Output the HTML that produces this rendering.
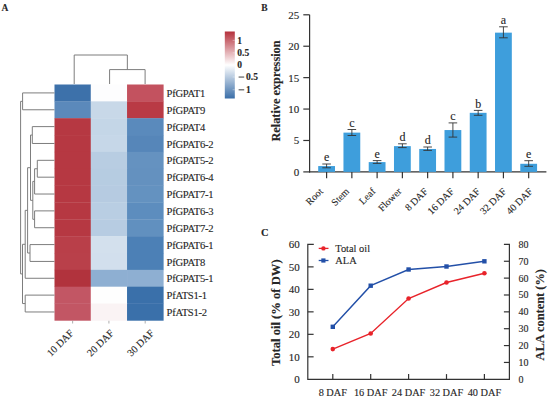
<!DOCTYPE html>
<html><head><meta charset="utf-8"><style>
html,body{margin:0;padding:0;background:#fff;}
svg{display:block;}
.s{font-family:"Liberation Serif", serif;fill:#262626;stroke:#262626;stroke-width:0.12px;}
</style></head><body>
<svg width="550" height="399" viewBox="0 0 550 399">
<rect width="550" height="399" fill="#fff"/>
<rect x="54.50" y="84.50" width="36.57" height="17.15" fill="#3d71aa"/>
<rect x="90.77" y="84.50" width="36.57" height="17.15" fill="#fdfdfe"/>
<rect x="127.04" y="84.50" width="36.57" height="17.15" fill="#c3525f"/>
<rect x="54.50" y="101.35" width="36.57" height="17.15" fill="#5b89bb"/>
<rect x="90.77" y="101.35" width="36.57" height="17.15" fill="#c8d8e8"/>
<rect x="127.04" y="101.35" width="36.57" height="17.15" fill="#b93a45"/>
<rect x="54.50" y="118.20" width="36.57" height="17.15" fill="#b63842"/>
<rect x="90.77" y="118.20" width="36.57" height="17.15" fill="#c4d6e7"/>
<rect x="127.04" y="118.20" width="36.57" height="17.15" fill="#5a8abc"/>
<rect x="54.50" y="135.05" width="36.57" height="17.15" fill="#b63842"/>
<rect x="90.77" y="135.05" width="36.57" height="17.15" fill="#c6d7e8"/>
<rect x="127.04" y="135.05" width="36.57" height="17.15" fill="#5686b9"/>
<rect x="54.50" y="151.90" width="36.57" height="17.15" fill="#b63842"/>
<rect x="90.77" y="151.90" width="36.57" height="17.15" fill="#b8cde2"/>
<rect x="127.04" y="151.90" width="36.57" height="17.15" fill="#6592c0"/>
<rect x="54.50" y="168.75" width="36.57" height="17.15" fill="#b63842"/>
<rect x="90.77" y="168.75" width="36.57" height="17.15" fill="#b6cce1"/>
<rect x="127.04" y="168.75" width="36.57" height="17.15" fill="#6491bf"/>
<rect x="54.50" y="185.60" width="36.57" height="17.15" fill="#b63842"/>
<rect x="90.77" y="185.60" width="36.57" height="17.15" fill="#b6cbe1"/>
<rect x="127.04" y="185.60" width="36.57" height="17.15" fill="#6492c0"/>
<rect x="54.50" y="202.45" width="36.57" height="17.15" fill="#b63842"/>
<rect x="90.77" y="202.45" width="36.57" height="17.15" fill="#b9cee3"/>
<rect x="127.04" y="202.45" width="36.57" height="17.15" fill="#5d8dbe"/>
<rect x="54.50" y="219.30" width="36.57" height="17.15" fill="#b63842"/>
<rect x="90.77" y="219.30" width="36.57" height="17.15" fill="#b7cce2"/>
<rect x="127.04" y="219.30" width="36.57" height="17.15" fill="#6190bf"/>
<rect x="54.50" y="236.15" width="36.57" height="17.15" fill="#b93f49"/>
<rect x="90.77" y="236.15" width="36.57" height="17.15" fill="#d3e0ed"/>
<rect x="127.04" y="236.15" width="36.57" height="17.15" fill="#4c80b6"/>
<rect x="54.50" y="253.00" width="36.57" height="17.15" fill="#b9404a"/>
<rect x="90.77" y="253.00" width="36.57" height="17.15" fill="#d2dfed"/>
<rect x="127.04" y="253.00" width="36.57" height="17.15" fill="#4c80b6"/>
<rect x="54.50" y="269.85" width="36.57" height="17.15" fill="#b1333d"/>
<rect x="90.77" y="269.85" width="36.57" height="17.15" fill="#8eafd2"/>
<rect x="127.04" y="269.85" width="36.57" height="17.15" fill="#8eafd2"/>
<rect x="54.50" y="286.70" width="36.57" height="17.15" fill="#c25664"/>
<rect x="90.77" y="286.70" width="36.57" height="17.15" fill="#fefefe"/>
<rect x="127.04" y="286.70" width="36.57" height="17.15" fill="#3a70aa"/>
<rect x="54.50" y="303.55" width="36.57" height="17.15" fill="#c25664"/>
<rect x="90.77" y="303.55" width="36.57" height="17.15" fill="#faf3f4"/>
<rect x="127.04" y="303.55" width="36.57" height="17.15" fill="#3a70aa"/>
<text x="166.5" y="97.02" font-size="10.6" letter-spacing="-0.25" class="s">PfGPAT1</text>
<text x="166.5" y="113.88" font-size="10.6" letter-spacing="-0.25" class="s">PfGPAT9</text>
<text x="166.5" y="130.72" font-size="10.6" letter-spacing="-0.25" class="s">PfGPAT4</text>
<text x="166.5" y="147.58" font-size="10.6" letter-spacing="-0.25" class="s">PfGPAT6-2</text>
<text x="166.5" y="164.42" font-size="10.6" letter-spacing="-0.25" class="s">PfGPAT5-2</text>
<text x="166.5" y="181.28" font-size="10.6" letter-spacing="-0.25" class="s">PfGPAT6-4</text>
<text x="166.5" y="198.12" font-size="10.6" letter-spacing="-0.25" class="s">PfGPAT7-1</text>
<text x="166.5" y="214.97" font-size="10.6" letter-spacing="-0.25" class="s">PfGPAT6-3</text>
<text x="166.5" y="231.83" font-size="10.6" letter-spacing="-0.25" class="s">PfGPAT7-2</text>
<text x="166.5" y="248.68" font-size="10.6" letter-spacing="-0.25" class="s">PfGPAT6-1</text>
<text x="166.5" y="265.53" font-size="10.6" letter-spacing="-0.25" class="s">PfGPAT8</text>
<text x="166.5" y="282.38" font-size="10.6" letter-spacing="-0.25" class="s">PfGPAT5-1</text>
<text x="166.5" y="299.23" font-size="10.6" letter-spacing="-0.25" class="s">PfATS1-1</text>
<text x="166.5" y="316.08" font-size="10.6" letter-spacing="-0.25" class="s">PfATS1-2</text>
<polyline fill="none" stroke="#7d7d7d" stroke-width="1" points="109.60,84.00 109.60,69.60 145.10,69.60 145.10,84.00"/>
<polyline fill="none" stroke="#7d7d7d" stroke-width="1" points="74.20,84.00 74.20,55.00 127.35,55.00 127.35,69.60"/>
<polyline fill="none" stroke="#7d7d7d" stroke-width="1" points="54.50,92.92 22.60,92.92 22.60,109.78 54.50,109.78"/>
<polyline fill="none" stroke="#7d7d7d" stroke-width="1" points="54.50,126.62 32.30,126.62 32.30,143.48 54.50,143.48"/>
<polyline fill="none" stroke="#7d7d7d" stroke-width="1" points="54.50,160.32 37.30,160.32 37.30,177.18 54.50,177.18"/>
<polyline fill="none" stroke="#7d7d7d" stroke-width="1" points="37.30,168.75 34.60,168.75 34.60,194.03 54.50,194.03"/>
<polyline fill="none" stroke="#7d7d7d" stroke-width="1" points="54.50,210.88 34.60,210.88 34.60,227.73 54.50,227.73"/>
<polyline fill="none" stroke="#7d7d7d" stroke-width="1" points="34.60,181.39 32.80,181.39 32.80,219.30 34.60,219.30"/>
<polyline fill="none" stroke="#7d7d7d" stroke-width="1" points="32.30,135.05 30.50,135.05 30.50,200.34 32.80,200.34"/>
<polyline fill="none" stroke="#7d7d7d" stroke-width="1" points="54.50,244.58 30.00,244.58 30.00,261.43 54.50,261.43"/>
<polyline fill="none" stroke="#7d7d7d" stroke-width="1" points="30.50,167.70 27.60,167.70 27.60,253.00 30.00,253.00"/>
<polyline fill="none" stroke="#7d7d7d" stroke-width="1" points="27.60,210.35 25.20,210.35 25.20,278.27 54.50,278.27"/>
<polyline fill="none" stroke="#7d7d7d" stroke-width="1" points="54.50,295.12 25.20,295.12 25.20,311.98 54.50,311.98"/>
<polyline fill="none" stroke="#7d7d7d" stroke-width="1" points="25.20,244.31 22.50,244.31 22.50,303.55 25.20,303.55"/>
<polyline fill="none" stroke="#7d7d7d" stroke-width="1" points="22.60,101.35 20.60,101.35 20.60,273.93 22.50,273.93"/>
<line x1="72.64" y1="320.80" x2="72.64" y2="323.50" stroke="#999" stroke-width="0.8"/>
<text transform="translate(74.30,333.7) rotate(-45)" text-anchor="end" font-size="10.2" class="s">10 DAF</text>
<line x1="108.91" y1="320.80" x2="108.91" y2="323.50" stroke="#999" stroke-width="0.8"/>
<text transform="translate(114.50,333.7) rotate(-45)" text-anchor="end" font-size="10.2" class="s">20 DAF</text>
<line x1="145.18" y1="320.80" x2="145.18" y2="323.50" stroke="#999" stroke-width="0.8"/>
<text transform="translate(154.70,333.7) rotate(-45)" text-anchor="end" font-size="10.2" class="s">30 DAF</text>
<defs><linearGradient id="lg" x1="0" y1="0" x2="0" y2="1"><stop offset="0" stop-color="#b5313c"/><stop offset="0.5" stop-color="#ffffff"/><stop offset="1" stop-color="#3a6ea8"/></linearGradient></defs>
<rect x="224.8" y="31.5" width="10" height="67" fill="url(#lg)"/>
<rect x="232.6" y="39.90" width="2.2" height="0.8" fill="#fff" fill-opacity="0.45"/>
<rect x="232.6" y="52.50" width="2.2" height="0.8" fill="#fff" fill-opacity="0.45"/>
<rect x="232.6" y="64.40" width="2.2" height="0.8" fill="#fff" fill-opacity="0.45"/>
<rect x="232.6" y="76.60" width="2.2" height="0.8" fill="#fff" fill-opacity="0.45"/>
<rect x="232.6" y="89.40" width="2.2" height="0.8" fill="#fff" fill-opacity="0.45"/>
<text x="237.3" y="43.50" font-size="9.5" font-weight="bold" class="s">1</text>
<text x="237.3" y="56.10" font-size="9.5" font-weight="bold" class="s">0.5</text>
<text x="237.3" y="68.00" font-size="9.5" font-weight="bold" class="s">0</text>
<text x="246" y="80.20" font-size="9.5" font-weight="bold" class="s">0.5</text>
<rect x="238.6" y="76.60" width="5.6" height="0.9" fill="#2a2a2a"/>
<text x="246" y="93.00" font-size="9.5" font-weight="bold" class="s">1</text>
<rect x="238.6" y="89.40" width="5.6" height="0.9" fill="#2a2a2a"/>
<text x="1.5" y="10.6" font-size="9.5" font-weight="bold" class="s">A</text>
<text x="261.3" y="10.6" font-size="9.5" font-weight="bold" class="s">B</text>
<text x="261" y="235.5" font-size="10.5" font-weight="bold" class="s">C</text>
<line x1="309.6" y1="14.8" x2="309.6" y2="172.5" stroke="#333" stroke-width="1.2"/>
<line x1="309.0" y1="171.9" x2="546.4" y2="171.9" stroke="#333" stroke-width="1.2"/>
<line x1="303.30" y1="171.90" x2="309.60" y2="171.90" stroke="#333" stroke-width="1.2"/>
<text x="299.2" y="175.90" text-anchor="end" font-size="11" class="s">0</text>
<line x1="303.30" y1="140.48" x2="309.60" y2="140.48" stroke="#333" stroke-width="1.2"/>
<text x="299.2" y="144.48" text-anchor="end" font-size="11" class="s">5</text>
<line x1="303.30" y1="109.06" x2="309.60" y2="109.06" stroke="#333" stroke-width="1.2"/>
<text x="299.2" y="113.06" text-anchor="end" font-size="11" class="s">10</text>
<line x1="303.30" y1="77.64" x2="309.60" y2="77.64" stroke="#333" stroke-width="1.2"/>
<text x="299.2" y="81.64" text-anchor="end" font-size="11" class="s">15</text>
<line x1="303.30" y1="46.22" x2="309.60" y2="46.22" stroke="#333" stroke-width="1.2"/>
<text x="299.2" y="50.22" text-anchor="end" font-size="11" class="s">20</text>
<line x1="303.30" y1="14.80" x2="309.60" y2="14.80" stroke="#333" stroke-width="1.2"/>
<text x="299.2" y="18.80" text-anchor="end" font-size="11" class="s">25</text>
<text transform="translate(280.2,91) rotate(-90)" text-anchor="middle" font-size="12.3" font-weight="bold" class="s">Relative expression</text>
<rect x="318.20" y="166.06" width="16.8" height="5.84" fill="#3e9edc"/>
<line x1="326.60" y1="164.00" x2="326.60" y2="167.80" stroke="#333" stroke-width="0.9"/>
<line x1="322.30" y1="164.00" x2="330.90" y2="164.00" stroke="#333" stroke-width="0.9"/>
<line x1="322.30" y1="167.80" x2="330.90" y2="167.80" stroke="#333" stroke-width="0.9"/>
<text x="326.60" y="161.20" text-anchor="middle" font-size="12" class="s">e</text>
<line x1="326.60" y1="171.90" x2="326.60" y2="178.30" stroke="#333" stroke-width="1.2"/>
<text transform="translate(323.60,192) rotate(-45)" text-anchor="end" font-size="10" class="s">Root</text>
<rect x="343.46" y="132.62" width="16.8" height="39.28" fill="#3e9edc"/>
<line x1="351.86" y1="129.50" x2="351.86" y2="135.50" stroke="#333" stroke-width="0.9"/>
<line x1="347.56" y1="129.50" x2="356.16" y2="129.50" stroke="#333" stroke-width="0.9"/>
<line x1="347.56" y1="135.50" x2="356.16" y2="135.50" stroke="#333" stroke-width="0.9"/>
<text x="351.86" y="126.70" text-anchor="middle" font-size="12" class="s">c</text>
<line x1="351.86" y1="171.90" x2="351.86" y2="178.30" stroke="#333" stroke-width="1.2"/>
<text transform="translate(349.80,192) rotate(-45)" text-anchor="end" font-size="10" class="s">Stem</text>
<rect x="368.72" y="162.10" width="16.8" height="9.80" fill="#3e9edc"/>
<line x1="377.12" y1="160.60" x2="377.12" y2="163.40" stroke="#333" stroke-width="0.9"/>
<line x1="372.82" y1="160.60" x2="381.42" y2="160.60" stroke="#333" stroke-width="0.9"/>
<line x1="372.82" y1="163.40" x2="381.42" y2="163.40" stroke="#333" stroke-width="0.9"/>
<text x="377.12" y="157.80" text-anchor="middle" font-size="12" class="s">e</text>
<line x1="377.12" y1="171.90" x2="377.12" y2="178.30" stroke="#333" stroke-width="1.2"/>
<text transform="translate(376.00,192) rotate(-45)" text-anchor="end" font-size="10" class="s">Leaf</text>
<rect x="393.98" y="146.14" width="16.8" height="25.76" fill="#3e9edc"/>
<line x1="402.38" y1="143.80" x2="402.38" y2="147.60" stroke="#333" stroke-width="0.9"/>
<line x1="398.08" y1="143.80" x2="406.68" y2="143.80" stroke="#333" stroke-width="0.9"/>
<line x1="398.08" y1="147.60" x2="406.68" y2="147.60" stroke="#333" stroke-width="0.9"/>
<text x="402.38" y="141.00" text-anchor="middle" font-size="12" class="s">d</text>
<line x1="402.38" y1="171.90" x2="402.38" y2="178.30" stroke="#333" stroke-width="1.2"/>
<text transform="translate(402.20,192) rotate(-45)" text-anchor="end" font-size="10" class="s">Flower</text>
<rect x="419.24" y="148.96" width="16.8" height="22.94" fill="#3e9edc"/>
<line x1="427.64" y1="147.00" x2="427.64" y2="150.40" stroke="#333" stroke-width="0.9"/>
<line x1="423.34" y1="147.00" x2="431.94" y2="147.00" stroke="#333" stroke-width="0.9"/>
<line x1="423.34" y1="150.40" x2="431.94" y2="150.40" stroke="#333" stroke-width="0.9"/>
<text x="427.64" y="144.20" text-anchor="middle" font-size="12" class="s">d</text>
<line x1="427.64" y1="171.90" x2="427.64" y2="178.30" stroke="#333" stroke-width="1.2"/>
<text transform="translate(428.40,192) rotate(-45)" text-anchor="end" font-size="10" class="s">8 DAF</text>
<rect x="444.50" y="130.05" width="16.8" height="41.85" fill="#3e9edc"/>
<line x1="452.90" y1="122.90" x2="452.90" y2="137.10" stroke="#333" stroke-width="0.9"/>
<line x1="448.60" y1="122.90" x2="457.20" y2="122.90" stroke="#333" stroke-width="0.9"/>
<line x1="448.60" y1="137.10" x2="457.20" y2="137.10" stroke="#333" stroke-width="0.9"/>
<text x="452.90" y="120.10" text-anchor="middle" font-size="12" class="s">c</text>
<line x1="452.90" y1="171.90" x2="452.90" y2="178.30" stroke="#333" stroke-width="1.2"/>
<text transform="translate(454.60,192) rotate(-45)" text-anchor="end" font-size="10" class="s">16 DAF</text>
<rect x="469.76" y="112.83" width="16.8" height="59.07" fill="#3e9edc"/>
<line x1="478.16" y1="110.40" x2="478.16" y2="115.30" stroke="#333" stroke-width="0.9"/>
<line x1="473.86" y1="110.40" x2="482.46" y2="110.40" stroke="#333" stroke-width="0.9"/>
<line x1="473.86" y1="115.30" x2="482.46" y2="115.30" stroke="#333" stroke-width="0.9"/>
<text x="478.16" y="107.60" text-anchor="middle" font-size="12" class="s">b</text>
<line x1="478.16" y1="171.90" x2="478.16" y2="178.30" stroke="#333" stroke-width="1.2"/>
<text transform="translate(480.80,192) rotate(-45)" text-anchor="end" font-size="10" class="s">24 DAF</text>
<rect x="495.02" y="32.65" width="16.8" height="139.25" fill="#3e9edc"/>
<line x1="503.42" y1="26.80" x2="503.42" y2="37.80" stroke="#333" stroke-width="0.9"/>
<line x1="499.12" y1="26.80" x2="507.72" y2="26.80" stroke="#333" stroke-width="0.9"/>
<line x1="499.12" y1="37.80" x2="507.72" y2="37.80" stroke="#333" stroke-width="0.9"/>
<text x="503.42" y="24.00" text-anchor="middle" font-size="12" class="s">a</text>
<line x1="503.42" y1="171.90" x2="503.42" y2="178.30" stroke="#333" stroke-width="1.2"/>
<text transform="translate(507.00,192) rotate(-45)" text-anchor="end" font-size="10" class="s">32 DAF</text>
<rect x="520.28" y="163.79" width="16.8" height="8.11" fill="#3e9edc"/>
<line x1="528.68" y1="160.70" x2="528.68" y2="166.30" stroke="#333" stroke-width="0.9"/>
<line x1="524.38" y1="160.70" x2="532.98" y2="160.70" stroke="#333" stroke-width="0.9"/>
<line x1="524.38" y1="166.30" x2="532.98" y2="166.30" stroke="#333" stroke-width="0.9"/>
<text x="528.68" y="157.90" text-anchor="middle" font-size="12" class="s">e</text>
<line x1="528.68" y1="171.90" x2="528.68" y2="178.30" stroke="#333" stroke-width="1.2"/>
<text transform="translate(533.20,192) rotate(-45)" text-anchor="end" font-size="10" class="s">40 DAF</text>
<polyline fill="none" stroke="#333" stroke-width="1.2" points="313.8,244.4 307.8,244.4 307.8,379.3 509.4,379.3 509.4,244.4 503.9,244.4"/>
<text x="299.8" y="383.10" text-anchor="end" font-size="11" class="s">0</text>
<line x1="307.80" y1="356.82" x2="313.60" y2="356.82" stroke="#333" stroke-width="1.2"/>
<text x="299.8" y="360.62" text-anchor="end" font-size="11" class="s">10</text>
<line x1="307.80" y1="334.33" x2="313.60" y2="334.33" stroke="#333" stroke-width="1.2"/>
<text x="299.8" y="338.13" text-anchor="end" font-size="11" class="s">20</text>
<line x1="307.80" y1="311.85" x2="313.60" y2="311.85" stroke="#333" stroke-width="1.2"/>
<text x="299.8" y="315.65" text-anchor="end" font-size="11" class="s">30</text>
<line x1="307.80" y1="289.37" x2="313.60" y2="289.37" stroke="#333" stroke-width="1.2"/>
<text x="299.8" y="293.17" text-anchor="end" font-size="11" class="s">40</text>
<line x1="307.80" y1="266.88" x2="313.60" y2="266.88" stroke="#333" stroke-width="1.2"/>
<text x="299.8" y="270.68" text-anchor="end" font-size="11" class="s">50</text>
<text x="299.8" y="248.20" text-anchor="end" font-size="11" class="s">60</text>
<text x="518.5" y="382.80" font-size="10" class="s">0</text>
<line x1="503.90" y1="362.44" x2="509.40" y2="362.44" stroke="#333" stroke-width="1.2"/>
<text x="518.5" y="365.94" font-size="10" class="s">10</text>
<line x1="503.90" y1="345.57" x2="509.40" y2="345.57" stroke="#333" stroke-width="1.2"/>
<text x="518.5" y="349.07" font-size="10" class="s">20</text>
<line x1="503.90" y1="328.71" x2="509.40" y2="328.71" stroke="#333" stroke-width="1.2"/>
<text x="518.5" y="332.21" font-size="10" class="s">30</text>
<line x1="503.90" y1="311.85" x2="509.40" y2="311.85" stroke="#333" stroke-width="1.2"/>
<text x="518.5" y="315.35" font-size="10" class="s">40</text>
<line x1="503.90" y1="294.99" x2="509.40" y2="294.99" stroke="#333" stroke-width="1.2"/>
<text x="518.5" y="298.49" font-size="10" class="s">50</text>
<line x1="503.90" y1="278.12" x2="509.40" y2="278.12" stroke="#333" stroke-width="1.2"/>
<text x="518.5" y="281.62" font-size="10" class="s">60</text>
<line x1="503.90" y1="261.26" x2="509.40" y2="261.26" stroke="#333" stroke-width="1.2"/>
<text x="518.5" y="264.76" font-size="10" class="s">70</text>
<text x="518.5" y="247.90" font-size="10" class="s">80</text>
<line x1="332.80" y1="379.30" x2="332.80" y2="374.10" stroke="#333" stroke-width="1.2"/>
<text x="332.80" y="396" text-anchor="middle" font-size="10.3" class="s">8 DAF</text>
<line x1="370.70" y1="379.30" x2="370.70" y2="374.10" stroke="#333" stroke-width="1.2"/>
<text x="370.70" y="396" text-anchor="middle" font-size="10.3" class="s">16 DAF</text>
<line x1="408.60" y1="379.30" x2="408.60" y2="374.10" stroke="#333" stroke-width="1.2"/>
<text x="408.60" y="396" text-anchor="middle" font-size="10.3" class="s">24 DAF</text>
<line x1="446.50" y1="379.30" x2="446.50" y2="374.10" stroke="#333" stroke-width="1.2"/>
<text x="446.50" y="396" text-anchor="middle" font-size="10.3" class="s">32 DAF</text>
<line x1="484.40" y1="379.30" x2="484.40" y2="374.10" stroke="#333" stroke-width="1.2"/>
<text x="484.40" y="396" text-anchor="middle" font-size="10.3" class="s">40 DAF</text>
<text transform="translate(279.6,312.7) rotate(-90)" text-anchor="middle" font-size="12.6" font-weight="bold" class="s">Total oil (% of DW)</text>
<text transform="translate(544,314.8) rotate(-90)" text-anchor="middle" font-size="12.4" font-weight="bold" class="s">ALA content (%)</text>
<polyline fill="none" stroke="#e8232a" stroke-width="1.4" points="332.80,349.10 370.70,333.50 408.60,298.50 446.50,282.50 484.40,273.20"/>
<polyline fill="none" stroke="#2350a8" stroke-width="1.4" points="332.80,326.80 370.70,285.70 408.60,269.50 446.50,266.50 484.40,261.30"/>
<circle cx="332.80" cy="349.10" r="2.3" fill="#e8232a"/>
<circle cx="370.70" cy="333.50" r="2.3" fill="#e8232a"/>
<circle cx="408.60" cy="298.50" r="2.3" fill="#e8232a"/>
<circle cx="446.50" cy="282.50" r="2.3" fill="#e8232a"/>
<circle cx="484.40" cy="273.20" r="2.3" fill="#e8232a"/>
<rect x="330.60" y="324.60" width="4.4" height="4.4" fill="#2350a8"/>
<rect x="368.50" y="283.50" width="4.4" height="4.4" fill="#2350a8"/>
<rect x="406.40" y="267.30" width="4.4" height="4.4" fill="#2350a8"/>
<rect x="444.30" y="264.30" width="4.4" height="4.4" fill="#2350a8"/>
<rect x="482.20" y="259.10" width="4.4" height="4.4" fill="#2350a8"/>
<line x1="318.70" y1="248.40" x2="328.50" y2="248.40" stroke="#e8232a" stroke-width="1.3"/>
<circle cx="323.4" cy="248.4" r="2.2" fill="#e8232a"/>
<line x1="318.70" y1="260.50" x2="328.50" y2="260.50" stroke="#2350a8" stroke-width="1.3"/>
<rect x="321.3" y="258.4" width="4.2" height="4.2" fill="#2350a8"/>
<text x="335.3" y="252.2" font-size="10.4" class="s">Total oil</text>
<text x="335.3" y="263.8" font-size="10.4" class="s">ALA</text>
</svg></body></html>
